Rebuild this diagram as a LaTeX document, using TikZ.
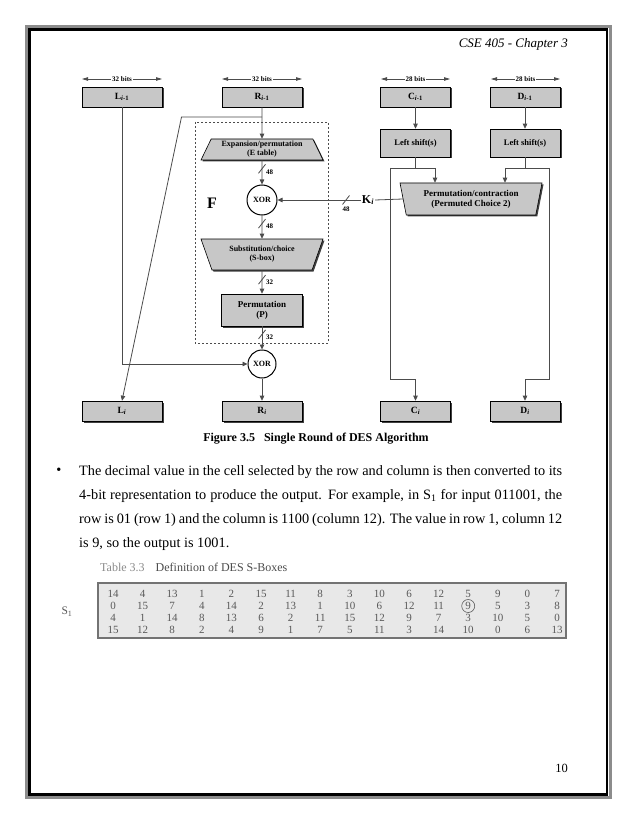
\documentclass[tikz,border=0pt]{standalone}
\usepackage{fontspec}
\setmainfont{Liberation Serif}
\usetikzlibrary{shapes.geometric,shadows,calc,arrows.meta}
\newcommand\busmark[3]{%
  \coordinate (#1) at (#2);
  \draw[ln] (#1) ++(-3.5,4.5) -- ++(7,-9);
  \node[buslab, anchor=west] (#1l) at ($(#1)+(4,3)$) {#3};}
\begin{document}
\begin{tikzpicture}[x=1pt,y=-1pt,
  ln/.style={draw=black!70, line width=0.8pt},
  arr/.style={ln, -{Triangle[length=5pt,width=4.5pt]}},
  dim/.style={ln, {Triangle[length=6pt,width=3.5pt]}-{Triangle[length=6pt,width=3.5pt]}},
  dimlab/.style={fill=white, inner sep=1pt, font=\fontsize{7}{8}\selectfont\bfseries},
  shad/.style={general shadow={fill=black!75, shadow xshift=1.5pt, shadow yshift=-1.5pt}},
  blk/.style={shad, draw=black, line width=0.6pt, fill=black!22, inner sep=0pt, align=center, font=\fontsize{9.5}{10}\selectfont\bfseries},
  trap/.style={blk, trapezium, trapezium stretches body, font=\fontsize{8}{9}\selectfont\bfseries},
  xor/.style={circle, draw=black, line width=1pt, fill=white, minimum size=30pt, inner sep=0pt, font=\fontsize{8}{9}\selectfont\bfseries},
  buslab/.style={inner sep=0pt, font=\fontsize{7}{8}\selectfont\bfseries},
  body/.style={font=\fontsize{14.3}{16}\selectfont, inner sep=0pt},
  tnum/.style={text=black!65, font=\fontsize{11}{12}\selectfont, inner sep=0pt}
]
\useasboundingbox (0,0) rectangle (638,826);
\fill[white] (0,0) rectangle (638,826);
% page frame
\draw[black!45, line width=3pt] (26.5,26.5) rectangle (610.5,797.5);
\draw[black, line width=2.5pt] (29.5,29.5) rectangle (607,794.5);
\node[anchor=base east, inner sep=0pt, font=\fontsize{13}{14}\selectfont\itshape] (hdr) at (568,48) {CSE 405 - Chapter 3};

% width arrows
\draw[dim] (82,79) -- node[dimlab] (wl) {32 bits} (162,79);
\draw[dim] (222,79) -- node[dimlab] (wr) {32 bits} (302,79);
\draw[dim] (381,79) -- node[dimlab] (wc) {28 bits} (450,79);
\draw[dim] (491,79) -- node[dimlab] (wd) {28 bits} (560,79);

% top boxes
\node[blk, minimum width=80pt, minimum height=20pt] (Lp) at (122,97) {L\textsubscript{\itshape i\upshape -1}};
\node[blk, minimum width=80pt, minimum height=20pt] (Rp) at (262,97) {R\textsubscript{\itshape i\upshape -1}};
\node[blk, minimum width=70pt, minimum height=20pt] (Cp) at (415.5,97) {C\textsubscript{\itshape i\upshape -1}};
\node[blk, minimum width=70pt, minimum height=20pt] (Dp) at (525,97) {D\textsubscript{\itshape i\upshape -1}};
\node[blk, minimum width=70pt, minimum height=28pt, font=\fontsize{8.5}{10}\selectfont\bfseries] (Lsc) at (415.5,143) {Left shift(s)};
\node[blk, minimum width=70pt, minimum height=28pt, font=\fontsize{8.5}{10}\selectfont\bfseries] (Lsd) at (525,143) {Left shift(s)};

% F box
\draw[black!70, line width=0.7pt, dash pattern=on 2pt off 2pt] (195,122) rectangle (328,343);
\node[font=\fontsize{16}{16}\selectfont\bfseries, inner sep=0pt] (F) at (212,203) {F};

\node[trap, trapezium left angle=58, trapezium right angle=58, minimum width=122pt, minimum height=21pt] (E) at (262,149.5) {Expansion/permutation\\(E table)};
\node[xor] (X1) at (262,200) {XOR};
\node[trap, shape border rotate=180, trapezium left angle=56, trapezium right angle=56, minimum width=122pt, minimum height=31pt] (S) at (262,254.5) {Substitution/choice\\(S-box)};
\node[blk, minimum width=81pt, minimum height=32pt, font=\fontsize{9}{10}\selectfont\bfseries] (P) at (262,310) {Permutation\\(P)};
\node[xor, minimum size=28pt] (X2) at (262,364) {XOR};

\node[trap, shape border rotate=180, trapezium left angle=71, trapezium right angle=71, minimum width=142pt, minimum height=32pt, font=\fontsize{9}{10}\selectfont\bfseries] (PC) at (471,199) {Permutation/contraction\\(Permuted Choice 2)};
\node[font=\fontsize{12}{12}\selectfont\bfseries, inner sep=1pt] (K) at (368,200) {K\textsubscript{\itshape i}};

% bottom boxes
\node[blk, minimum width=80pt, minimum height=20pt] (Li) at (122,411) {L\textsubscript{\itshape i}};
\node[blk, minimum width=80pt, minimum height=20pt] (Ri) at (262,411) {R\textsubscript{\itshape i}};
\node[blk, minimum width=70pt, minimum height=20pt] (Ci) at (415.5,411) {C\textsubscript{\itshape i}};
\node[blk, minimum width=70pt, minimum height=20pt] (Di) at (525,411) {D\textsubscript{\itshape i}};

% connectors F path
\coordinate (br) at (262,117);
\coordinate (brl) at (181.5,117);
\draw[arr] (Rp.south) -- (E.north);
\draw[arr] (br) -- (brl) -- (Li.north);
\draw[arr] (E.south) -- (X1.north);
\busmark{b1}{$(E.south)!0.35!(X1.north)$}{48}
\draw[arr] (X1.south) -- (S.north);
\busmark{b2}{$(X1.south)!0.35!(S.north)$}{48}
\draw[arr] (S.south) -- (P.north);
\busmark{b3}{$(S.south)!0.4!(P.north)$}{32}
\draw[arr] (P.south) -- (X2.north);
\busmark{b4}{$(P.south)!0.35!(X2.north)$}{32}
\draw[arr] (X2.south) -- (Ri.north);
\draw[arr] (Lp.south) |- (X2.west);

% key schedule
\draw[arr] (Cp.south) -- (Lsc.north);
\draw[arr] (Dp.south) -- (Lsd.north);
\coordinate (cs) at (415.5,168); \coordinate (csl) at (390,168); \coordinate (csr) at (435,168);
\coordinate (cb) at (390,379);
\draw[ln] (Lsc.south) -- (cs);
\draw[ln] (csl) -- (csr);
\draw[arr] (csr) -- (csr |- PC.north);
\draw[arr] (csl) -- (cb) -| (Ci.north);
\coordinate (ds) at (525,168); \coordinate (dsl) at (505,168); \coordinate (dsr) at (549,168);
\coordinate (db) at (549,379);
\draw[ln] (Lsd.south) -- (ds);
\draw[ln] (dsl) -- (dsr);
\draw[arr] (dsl) -- (dsl |- PC.north);
\draw[arr] (dsr) -- (db) -| (Di.north);

\draw[ln] (PC.west) -- (K.east);
\draw[arr] (K.west) -- (X1.east);
\coordinate (kb) at (346,200);
\draw[ln] (kb) ++(-3.5,4.5) -- ++(7,-9);
\node[buslab] (kbl) at (346,209) {48};

\node[font=\fontsize{12}{13}\selectfont\bfseries, inner sep=0pt] (cap) at (316,439) {Figure 3.5\hspace{9pt}Single Round of DES Algorithm};

% paragraph
\node[body] (bul) at (59,471) {•};
\node[body, anchor=base west] (p1) at (79,475) {\makebox[483pt][s]{The decimal value in the cell selected by the row and column is then converted to its}};
\node[body, anchor=base west] (p2) at (79,499) {\makebox[483pt][s]{4-bit representation to produce the output. For example, in S\textsubscript{1} for input 011001, the}};
\node[body, anchor=base west] (p3) at (79,523) {\makebox[483pt][s]{row is 01 (row 1) and the column is 1100 (column 12). The value in row 1, column 12}};
\node[body, anchor=base west] (p4) at (79,547) {is 9, so the output is 1001.};

% table
\node[anchor=base west, inner sep=0pt, font=\fontsize{12}{13}\selectfont] (tcap) at (100,571) {\textcolor{black!45}{Table 3.3}\hspace{11pt}\textcolor{black!70}{Definition of DES S-Boxes}};
\draw[fill=black!9, draw=black!55, line width=1.5pt] (98,583) rectangle (566,638);
\foreach \row [count=\r] in {{14,4,13,1,2,15,11,8,3,10,6,12,5,9,0,7},{0,15,7,4,14,2,13,1,10,6,12,11,9,5,3,8},{4,1,14,8,13,6,2,11,15,12,9,7,3,10,5,0},{15,12,8,2,4,9,1,7,5,11,3,14,10,0,6,13}}
  \foreach \v [count=\c] in \row
    \node[tnum] (t\r-\c) at ({113+(\c-1)*29.6},{582+\r*12}) {\v};
\draw[black!65, line width=0.6pt] (t2-13) circle (6.5pt);
\node[tnum, font=\fontsize{11.5}{12}\selectfont] (s1) at (67,612) {S\textsubscript{1}};

\node[anchor=base east, inner sep=0pt, font=\fontsize{12.5}{14}\selectfont] (pg) at (568,772) {10};
\end{tikzpicture}
\end{document}
